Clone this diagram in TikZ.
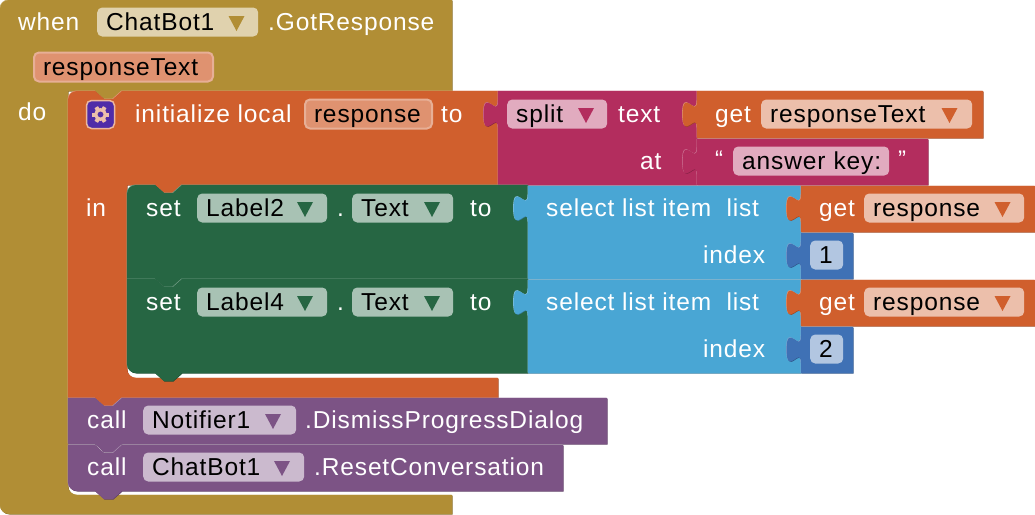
\documentclass[tikz,border=0pt]{standalone}
\usepackage{fontspec}
\setmainfont[LetterSpace=3.5]{Liberation Sans}

\definecolor{mustard}{HTML}{B18E35}
\definecolor{orange}{HTML}{D05F2D}
\definecolor{magenta}{HTML}{B32D5E}
\definecolor{green}{HTML}{266643}
\definecolor{blue}{HTML}{49A6D4}
\definecolor{dkblue}{HTML}{3F71B5}
\definecolor{purple}{HTML}{7C5385}
\definecolor{gearblue}{HTML}{4F2CA8}

% notch or tab on a horizontal edge, going right or going left
\def\dn#1#2{-- (#1,#2) -- (#1+9,#2+8) -- (#1+18,#2+8) -- (#1+27,#2)}
\def\rn#1#2{-- (#1+27,#2) -- (#1+18,#2+8) -- (#1+9,#2+8) -- (#1,#2)}
% puzzle tab on a left edge, going down
\def\lug#1#2{-- (#1,#2-13.5) .. controls (#1,#2+4.5) and (#1-14.4,#2-27.9) .. (#1-14.4,#2) .. controls (#1-14.4,#2+27.9) and (#1,#2-4.5) .. (#1,#2+13.5)}
% block with its light and dark edge
\def\block#1#2{
	\fill[#1!65!white,shift={(-.5,-.5)}] #2;
	\fill[#1!75!black,shift={(.5,.5)}] #2;
	\fill[#1] #2;
}

\begin{document}
\begin{tikzpicture}[x=1pt,y=-1pt]
		\tikzstyle{every node}=[font=\fontsize{24.5}{30}\selectfont]
		\tikzstyle{lbl}=[anchor=west,inner sep=0pt,text height=20pt,text depth=3pt,text=white]
		\tikzstyle{field}=[anchor=west,rounded corners=5pt,inner xsep=9pt,inner ysep=0pt,minimum height=29pt,text height=20pt,text depth=3pt,text=black]
		\tikzstyle{var}=[field,draw=orange!50!white,fill=orange!68!white,line width=2pt]
		\useasboundingbox (0,0) rectangle (1035,514);

		% Draw the blocks from the outside in
		\block{mustard}{(0,200) [rounded corners=9pt] -- (0,0) [sharp corners] -- (452,0) -- (452,91) \rn{95}{91} -- (68,91) [rounded corners=9pt] -- (68,495) [sharp corners] -- (452,495) -- (452,514) [rounded corners=9pt] -- (0,514) -- cycle}
		\block{orange}{(68,150) [rounded corners=9pt] -- (68,91) [sharp corners] \dn{95}{91} -- (498,91) -- (498,185) \rn{155}{185} -- (127,185) [rounded corners=9pt] -- (127,378) [sharp corners] -- (498,378) -- (498,398) \rn{95}{398} -- (68,398) -- cycle}
		\block{magenta}{(498,91) \lug{498}{114.5} -- (498,185) -- (697,185) -- (697,91) -- cycle}
		\block{orange}{(697,91) \lug{697}{114.5} -- (697,138) -- (983,138) -- (983,91) -- cycle}
		\block{magenta}{(697,139) \lug{697}{161.5} -- (697,185) -- (928,185) -- (928,139) -- cycle}
		\block{green}{(127,240) [rounded corners=9pt] -- (127,185) [sharp corners] \dn{155}{185} -- (528,185) -- (528,279) \rn{155}{279} -- (127,279) -- cycle}
		\block{green}{(127,330) -- (127,279) \dn{155}{279} -- (528,279) -- (528,373) \rn{155}{373} [rounded corners=9pt] -- (127,373) -- cycle}
		\foreach \rowy in {186,280} {
			\block{blue}{(528,\rowy) \lug{528}{\rowy+22.5} -- (528,\rowy+93) -- (801,\rowy+93) -- (801,\rowy) -- cycle}
			\block{orange}{(801,\rowy) \lug{801}{\rowy+22.5} -- (801,\rowy+46) -- (1035,\rowy+46) -- (1035,\rowy) -- cycle}
			\block{dkblue}{(801,\rowy+47) \lug{801}{\rowy+69.5} -- (801,\rowy+93) -- (853,\rowy+93) -- (853,\rowy+47) -- cycle}
		}
		\block{purple}{(68,398) \dn{95}{398} -- (607,398) -- (607,444) \rn{95}{444} -- (68,444) -- cycle}
		\block{purple}{(68,470) -- (68,445) \dn{95}{445} -- (563,445) -- (563,491) \rn{95}{491} [rounded corners=9pt] -- (68,491) -- cycle}

		% Draw the white words
		\foreach \name/\x/\y/\txt in {when/18/22/when, got/268/22/.GotResponse, do/18/112/do, init/135/114/initialize local,
			to0/441/114/to, text/618/114/text, at/640/161/at, get0/715/114/get, in/86/208/in,
			set1/146/208/set, dot1/337/208/., to1/470/208/to, sel1/546/208/select list item\ \ list, idx1/703/255/index, get1/819/208/get,
			set2/146/302/set, dot2/337/302/., to2/470/302/to, sel2/546/302/select list item\ \ list, idx2/703/349/index, get2/819/302/get,
			call1/87/420/call, dismiss/305/420/.DismissProgressDialog, call2/87/467/call, reset/314/467/.ResetConversation}
			\node[lbl] (L-\name) at (\x,\y) {\txt};

		% Draw the dropdown fields
		\foreach \name/\x/\w/\y/\txt/\col in {bot/97/161/22/ChatBot1/mustard, split/507/100/114/split/magenta,
			rtext/761/211/114/responseText/orange, key/733/156/161/answer~key:/magenta,
			lab1/197/130/208/Label2/green, prop1/352/101/208/Text/green, var1/864/160/208/response/orange, num1/810/33/255/1/dkblue,
			lab2/197/130/302/Label4/green, prop2/352/101/302/Text/green, var2/864/160/302/response/orange, num2/810/33/349/2/dkblue,
			note/143/153/420/Notifier1/purple, bot2/143/161/467/ChatBot1/purple}
			\node[field,fill=\col!40!white,minimum width=\w pt,text width=\w-18] (F-\name) at (\x,\y) {\txt};
		\node[var,minimum width=179pt,text width=161] (V-resp) at (33,67) {responseText};
		\node[var,minimum width=127pt,text width=109] (V-local) at (304,114) {response};
		\node[lbl,font=\fontsize{24}{26}\selectfont] (Q-open) at (715,158.5) {“};
		\node[lbl,font=\fontsize{24}{26}\selectfont] (Q-close) at (898,158.5) {”};

		% Draw the dropdown arrows
		\foreach \x/\y/\col in {236.5/22/mustard, 586/114/magenta, 949.5/114/orange, 305/208/green, 432/208/green, 1002.5/208/orange,
			305/302/green, 432/302/green, 1002.5/302/orange, 273/420/purple, 282/467/purple}
			\fill[\col] (\x-8,\y-6) -- (\x+8,\y-6) -- (\x,\y+9) -- cycle;

		% Draw the gear
		\node[draw=orange!45!white,fill=gearblue,rounded corners=5pt,minimum size=28pt,inner sep=0pt,line width=1.5pt] (gear) at (100.5,114.5) {};
		\foreach \a in {0,60,...,300}
			\draw[orange!40!white,line width=4pt] (gear.center) ++(\a:5) -- ++(\a:3.5);
		\draw[orange!40!white,line width=3.2pt] (gear.center) circle (4.8);
	\end{tikzpicture}
\end{document}
